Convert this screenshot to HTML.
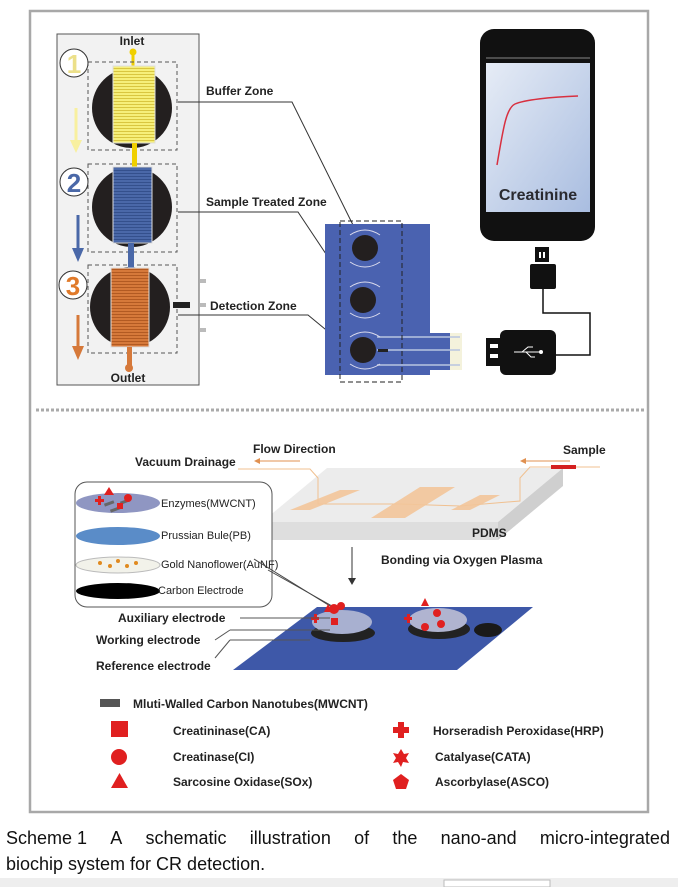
<!DOCTYPE html>
<html><head><meta charset="utf-8"><style>
body{margin:0;background:#fff;width:678px;height:887px;overflow:hidden;font-family:"Liberation Sans",sans-serif}
svg{position:absolute;left:0;top:0}
.b{font-weight:bold;font-size:12px;fill:#222}
.s{font-size:11px;fill:#222}
.cap{position:absolute;left:6px;width:664px;font-size:18px;color:#111;white-space:nowrap}
</style></head><body>
<svg width="678" height="887" viewBox="0 0 678 887">
<defs>
<pattern id="yl" width="4" height="3" patternUnits="userSpaceOnUse"><rect width="4" height="3" fill="#f6ef7a"/><rect y="2" width="4" height="1" fill="#d9c640"/></pattern>
<pattern id="bl" width="4" height="3" patternUnits="userSpaceOnUse"><rect width="4" height="3" fill="#4a68a8"/><rect y="2" width="4" height="1" fill="#34508c"/></pattern>
<pattern id="or" width="4" height="3" patternUnits="userSpaceOnUse"><rect width="4" height="3" fill="#d6793a"/><rect y="2" width="4" height="1" fill="#b25a22"/></pattern>
<linearGradient id="scr" x1="0" y1="0" x2="1" y2="1"><stop offset="0" stop-color="#e6ecf6"/><stop offset="1" stop-color="#a9bde0"/></linearGradient>
</defs>
<rect x="30" y="11" width="618" height="801" fill="#fff" stroke="#a8a8a8" stroke-width="2.5"/>
<rect x="57" y="34" width="142" height="351" fill="#f2f2f2" stroke="#555" stroke-width="1"/>
<text x="132" y="45" class="b" text-anchor="middle">Inlet</text>
<text x="128" y="382" class="b" text-anchor="middle">Outlet</text>
<line x1="133" y1="52" x2="133" y2="66" stroke="#f0d000" stroke-width="3"/><circle cx="133" cy="52" r="3.5" fill="#f0d000"/>
<g stroke="#555" stroke-dasharray="4,3" fill="none"><rect x="88" y="62" width="89" height="88"/><rect x="88" y="164" width="89" height="88"/><rect x="88" y="265" width="89" height="88"/></g>
<circle cx="132" cy="108" r="40" fill="#231f1f"/><circle cx="132" cy="207" r="40" fill="#231f1f"/><circle cx="130" cy="307" r="40" fill="#231f1f"/>
<rect x="113" y="66" width="42" height="77" fill="url(#yl)" stroke="#ddd"/>
<rect x="132" y="143" width="5" height="24" fill="#f0d000"/>
<rect x="113" y="167" width="39" height="76" fill="url(#bl)" stroke="#ddd"/>
<rect x="128" y="243" width="6" height="25" fill="#4a68a8"/>
<rect x="111" y="268" width="38" height="79" fill="url(#or)" stroke="#ddd"/>
<rect x="127" y="347" width="5" height="20" fill="#d6793a"/><circle cx="129" cy="368" r="4" fill="#d6793a"/>
<circle cx="74" cy="63" r="14" fill="#fff" stroke="#333"/><text x="74" y="73" text-anchor="middle" font-size="26" font-weight="bold" fill="#ece08a">1</text>
<circle cx="74" cy="182" r="14" fill="#fff" stroke="#333"/><text x="74" y="192" text-anchor="middle" font-size="26" font-weight="bold" fill="#4a68a8">2</text>
<circle cx="73" cy="285" r="14" fill="#fff" stroke="#333"/><text x="73" y="295" text-anchor="middle" font-size="26" font-weight="bold" fill="#e07a2a">3</text>
<line x1="76" y1="108" x2="76" y2="143" stroke="#f8f0a0" stroke-width="3"/><polygon points="70,140 82,140 76,153" fill="#f8f0a0"/>
<line x1="78" y1="215" x2="78" y2="250" stroke="#4a68a8" stroke-width="3"/><polygon points="72,248 84,248 78,262" fill="#4a68a8"/>
<line x1="78" y1="315" x2="78" y2="348" stroke="#d6793a" stroke-width="3"/><polygon points="72,346 84,346 78,360" fill="#d6793a"/>
<rect x="173" y="302" width="17" height="6" fill="#222"/>
<rect x="200" y="279" width="6" height="4" fill="#bbb"/><rect x="200" y="303" width="6" height="4" fill="#bbb"/><rect x="200" y="328" width="6" height="4" fill="#bbb"/>
<text x="206" y="95" class="b">Buffer Zone</text>
<text x="206" y="206" class="b">Sample Treated Zone</text>
<text x="210" y="310" class="b">Detection Zone</text>
<g stroke="#333" fill="none" stroke-width="1"><polyline points="178,102 292,102 353,225"/><polyline points="178,212 298,212 348,287"/><polyline points="178,315 308,315 348,348"/></g>
<rect x="325" y="224" width="105" height="151" fill="#4a62b0"/>
<rect x="430" y="333" width="32" height="37" fill="#f4f2dc"/>
<rect x="430" y="333" width="20" height="37" fill="#4a62b0"/>
<g stroke="#b8c4e0" stroke-width="1.5"><line x1="377" y1="337" x2="460" y2="337"/><line x1="377" y1="365" x2="460" y2="365"/><line x1="377" y1="350" x2="460" y2="350"/></g>
<rect x="340" y="221" width="62" height="161" fill="none" stroke="#222" stroke-dasharray="5,3"/>
<g fill="#231f1f"><circle cx="365" cy="248" r="13"/><circle cx="363" cy="300" r="13"/><circle cx="363" cy="350" r="13"/></g>
<rect x="378" y="349" width="10" height="3" fill="#222"/>
<g stroke="#dde" fill="none" stroke-width="1"><path d="M350,235 q15,-10 30,0"/><path d="M350,262 q15,10 30,0"/><path d="M350,287 q15,-10 30,0"/><path d="M350,313 q15,10 30,0"/><path d="M350,337 q15,-10 30,0"/><path d="M350,364 q15,10 30,0"/></g>
<rect x="480" y="29" width="115" height="212" rx="14" fill="#111"/>
<line x1="486" y1="58" x2="590" y2="58" stroke="#888"/>
<rect x="486" y="63" width="104" height="149" fill="url(#scr)"/>
<path d="M497,165 C503,130 506,108 515,104 S550,97 578,96" stroke="#d83040" stroke-width="1.5" fill="none"/>
<text x="538" y="200" text-anchor="middle" font-size="16" font-weight="bold" fill="#2a2a30">Creatinine</text>
<rect x="535" y="247" width="14" height="15" fill="#111"/><rect x="539" y="252" width="2" height="6" fill="#fff"/><rect x="543" y="252" width="2" height="6" fill="#fff"/>
<rect x="530" y="264" width="26" height="25" rx="2" fill="#111"/>
<polyline points="543,289 543,313 590,313 590,355 555,355" fill="none" stroke="#111" stroke-width="1.5"/>
<rect x="500" y="330" width="56" height="45" rx="6" fill="#111"/>
<rect x="486" y="338" width="18" height="28" fill="#111"/>
<rect x="490" y="344" width="8" height="4" fill="#fff"/><rect x="490" y="354" width="8" height="4" fill="#fff"/>
<path d="M514,352 H540 M522,352 l6,-5 h5 M526,352 l5,5 h4" stroke="#fff" fill="none"/><circle cx="541" cy="352" r="2" fill="#fff"/>
<line x1="36" y1="410" x2="646" y2="410" stroke="#aaa" stroke-width="3" stroke-dasharray="3,2"/>
<text x="253" y="453" class="b">Flow Direction</text>
<text x="135" y="466" class="b">Vacuum Drainage</text>
<text x="563" y="454" class="b">Sample</text>
<line x1="258" y1="461" x2="300" y2="461" stroke="#e09050" stroke-width="1"/><polygon points="254,461 260,458 260,464" fill="#e09050"/>
<line x1="524" y1="461" x2="570" y2="461" stroke="#e09050"/><polygon points="520,461 526,458 526,464" fill="#e09050"/>
<polygon points="327,468 563,468 498,522 262,522" fill="#ececec"/>
<polygon points="262,522 498,522 498,540 262,540" fill="#dedede"/>
<polygon points="498,522 563,468 563,486 498,540" fill="#cfcfcf"/>
<g stroke="#f0c090" stroke-width="1" fill="none"><polyline points="238,469 310,469 318,478 318,504 400,504 460,506 520,501 520,478 530,467 560,467 600,467"/></g>
<g fill="#f3c69a" opacity=".9"><polygon points="290,510 340,490 360,490 310,510"/><polygon points="371,518 420,487 455,487 405,518"/><polygon points="451,510 480,495 500,495 470,510"/></g>
<rect x="551" y="465" width="25" height="4" fill="#d42020"/>
<text x="472" y="537" class="b">PDMS</text>
<line x1="352" y1="547" x2="352" y2="580" stroke="#333"/><polygon points="348,578 356,578 352,585" fill="#333"/>
<text x="381" y="564" class="b">Bonding via Oxygen Plasma</text>
<polygon points="317,607 533,607 457,670 233,670" fill="#3e58a8"/>
<rect x="75" y="482" width="197" height="125" rx="12" fill="#fff" stroke="#555"/>
<ellipse cx="118" cy="503" rx="42" ry="10" fill="#8f96c2"/><ellipse cx="118" cy="536" rx="42" ry="9" fill="#5a8cc8"/>
<ellipse cx="118" cy="565" rx="42" ry="8" fill="#f2f2ea" stroke="#bbb"/><ellipse cx="118" cy="591" rx="42" ry="8" fill="#000"/>
<g fill="#e08a20"><circle cx="100" cy="563" r="2"/><circle cx="110" cy="566" r="2"/><circle cx="118" cy="561" r="2"/><circle cx="127" cy="566" r="2"/><circle cx="136" cy="563" r="2"/></g>
<g fill="#666"><rect x="104" y="502" width="10" height="3" transform="rotate(-20 109 503)"/><rect x="120" y="500" width="10" height="3" transform="rotate(-20 125 501)"/><rect x="110" y="508" width="10" height="3" transform="rotate(-20 115 509)"/></g>
<g fill="#e02020"><rect x="95" y="499" width="9" height="3"/><rect x="98" y="496" width="3" height="9"/><polygon points="104,495 114,495 109,487"/><circle cx="128" cy="498" r="4"/><rect x="117" y="503" width="6" height="6"/></g>
<text x="161" y="507" class="s">Enzymes(MWCNT)</text>
<text x="161" y="539" class="s">Prussian Bule(PB)</text>
<text x="161" y="568" class="s">Gold Nanoflower(AuNF)</text>
<text x="158" y="594" class="s">Carbon Electrode</text>
<line x1="254" y1="559" x2="330" y2="606" stroke="#444"/><line x1="268" y1="570" x2="332" y2="606" stroke="#444"/>
<ellipse cx="343" cy="633" rx="32" ry="9" fill="#222"/><ellipse cx="342" cy="622" rx="30" ry="12" fill="#a8b0d0"/>
<ellipse cx="439" cy="629" rx="31" ry="10" fill="#222"/><ellipse cx="438" cy="620" rx="29" ry="12" fill="#b0b4d0"/>
<ellipse cx="488" cy="630" rx="14" ry="7" fill="#1a1a1a"/>
<g fill="#e02020"><circle cx="334" cy="609" r="5"/><polygon points="324,612 332,612 328,604"/><circle cx="341" cy="606" r="4"/><rect x="331" y="618" width="7" height="7"/><rect x="311" y="617" width="8" height="3"/><rect x="314" y="614" width="3" height="9"/>
<polygon points="421,606 429,606 425,598"/><circle cx="425" cy="627" r="4"/><circle cx="437" cy="613" r="4"/><rect x="404" y="617" width="8" height="3"/><rect x="407" y="614" width="3" height="9"/><circle cx="441" cy="624" r="4"/></g>
<text x="118" y="622" class="b">Auxiliary electrode</text>
<text x="96" y="644" class="b">Working electrode</text>
<text x="96" y="670" class="b">Reference electrode</text>
<g stroke="#555"><line x1="240" y1="618" x2="330" y2="618"/><line x1="215" y1="640" x2="230" y2="630"/><line x1="230" y1="630" x2="330" y2="630"/><line x1="215" y1="658" x2="230" y2="640"/><line x1="230" y1="640" x2="310" y2="640"/></g>
<rect x="100" y="699" width="20" height="8" fill="#555"/>
<text x="133" y="708" class="b" font-size="11.5">Mluti-Walled Carbon Nanotubes(MWCNT)</text>
<rect x="111" y="721" width="17" height="16" fill="#e02020"/>
<circle cx="119" cy="757" r="8" fill="#e02020"/>
<polygon points="111,788 128,788 119.5,773" fill="#e02020"/>
<text x="173" y="735" class="b" font-size="11.5">Creatininase(CA)</text>
<text x="173" y="761" class="b" font-size="11.5">Creatinase(CI)</text>
<text x="173" y="786" class="b" font-size="11.5">Sarcosine Oxidase(SOx)</text>
<rect x="393" y="727" width="16" height="6" fill="#e02020"/><rect x="398" y="722" width="6" height="16" fill="#e02020"/>
<polygon points="401,749 404,754 409,753 406,758 409,763 403,762 401,767 398,762 393,763 396,758 393,753 398,754" fill="#e02020"/>
<polygon points="401,774 409,780 406,789 396,789 393,780" fill="#e02020"/>
<text x="433" y="735" class="b" font-size="11.5">Horseradish Peroxidase(HRP)</text>
<text x="435" y="761" class="b" font-size="11.5">Catalyase(CATA)</text>
<text x="435" y="786" class="b" font-size="11.5">Ascorbylase(ASCO)</text>
<rect x="0" y="878" width="678" height="9" fill="#eeeeee"/>
<rect x="444" y="880" width="106" height="7" fill="#fff" stroke="#bbb"/>
</svg>
<div class="cap" style="top:828px;display:flex;justify-content:space-between"><span>Scheme 1</span><span>A</span><span>schematic</span><span>illustration</span><span>of</span><span>the</span><span>nano-and</span><span>micro-integrated</span></div>
<div class="cap" style="top:854px">biochip system for CR detection.</div>
</body></html>
